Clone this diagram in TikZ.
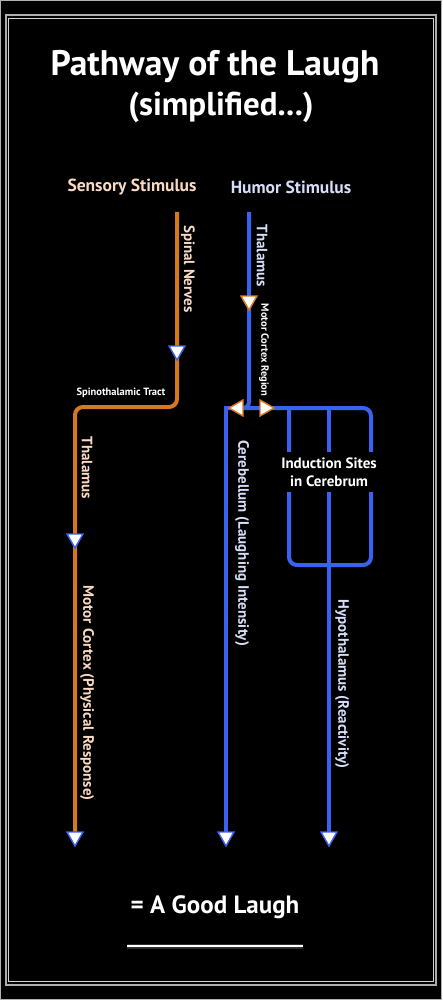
\documentclass[tikz,border=0pt]{standalone}
\usepackage{fontspec}
\setmainfont{PT Sans}

\definecolor{nerve}{RGB}{214,120,30}
\definecolor{humor}{RGB}{58,98,240}
\definecolor{peach}{RGB}{250,218,195}
\definecolor{lilac}{RGB}{215,222,250}

\tikzset{
  sense/.style={draw=nerve, line width=4pt},
  fun/.style={draw=humor, line width=4pt},
  title/.style={font=\bfseries\fontsize{35.5}{40}\selectfont, text=white},
  head/.style={font=\bfseries\fontsize{17.5}{20}\selectfont},
  lbl/.style={font=\bfseries\fontsize{15}{18}\selectfont, rotate=-90, inner sep=0pt},
  small/.style={font=\bfseries\fontsize{10.5}{12}\selectfont, text=white, inner sep=0pt},
  tri/.pic={\filldraw[fill=white, line width=1.4pt, pic actions] (-8,-6) -- (8,-6) -- (0,8) -- cycle;}
}

\begin{document}
\begin{tikzpicture}[x=1pt, y=-1pt]
				% fond et cadre
				\fill[black] (0,0) rectangle (442,1000);
				\draw[gray!60, line width=1pt] (0.5,0.5) rectangle (441.5,999.5);
				\draw[gray!65, line width=2pt] (6,15) rectangle (436,985);
				\draw[gray!35, line width=1pt] (8.5,18.5) rectangle (433.5,981.5);
				\useasboundingbox (0,0) rectangle (442,1000);

				% titre
				\node[title] (ttl) at (215,67) {Pathway of the Laugh};
				\node[title, font=\bfseries\fontsize{33}{36}\selectfont] (sub) at (221,107) {(simplified...)};

				% stimuli
				\node[head, text=peach] (sens) at (132,187) {Sensory Stimulus};
				\node[head, text=lilac] (hum) at (291,187) {Humor Stimulus};

				% voie sensorielle
				\coordinate (s0) at (177,212);
				\coordinate (s1) at (177,407);
				\coordinate (s2) at (75,407);
				\coordinate (s3) at (75,838);
				\draw[sense, rounded corners=8pt] (s0) -- (s1) -- (s2) -- (s3);

				% branche cervelet
				\coordinate (c0) at (226,838);
				\coordinate (c1) at (226,408);
				\coordinate (c2) at (300,408);
				\draw[fun] (c0) -- (c1) -- (c2);

				% voie humour
				\coordinate (h0) at (249,212);
				\coordinate (h1) at (249,408);
				\coordinate (h2) at (236,408);
				\draw[fun, rounded corners=6pt] (h0) -- (h1) -- (h2);

				% sites d'induction
				\coordinate (r1) at (371,408);
				\coordinate (r2) at (371,565);
				\coordinate (r3) at (289,565);
				\coordinate (r4) at (289,408);
				\draw[fun, rounded corners=8pt] (c1) -- (r1) -- (r2) -- (r3) -- (r4);

				% branche hypothalamus
				\coordinate (m0) at (329,408);
				\coordinate (m1) at (329,838);
				\draw[fun] (m0) -- (m1);

				% etiquettes
				\node[lbl, text=peach] (spn) at (188,269) {Spinal Nerves};
				\node[small] (stt) at (121,393) {Spinothalamic Tract};
				\node[lbl, text=peach] (thl) at (87,468) {Thalamus};
				\node[lbl, text=peach] (mcx) at (87,693) {Motor Cortex (Physical Response)};
				\node[lbl, text=lilac] (hth) at (262,256) {Thalamus};
				\node[small, rotate=-90] (mcr) at (264,350) {Motor Cortex Region};
				\node[lbl, text=lilac] (cbl) at (242,543) {Cerebellum (Laughing Intensity)};
				\node[lbl, text=lilac] (hyp) at (342,684) {Hypothalamus (Reactivity)};
				\node[fill=black, text=white, align=center, inner sep=1pt, minimum width=103pt, minimum height=40pt,
				      font=\bfseries\fontsize{15}{18}\selectfont] (ind) at (329,472) {Induction Sites\\in Cerebrum};

				% fleches
				\pic[draw=humor] at (s1 |- 0,352) {tri};
				\pic[draw=humor] at (s2 |- 0,540) {tri};
				\pic[draw=humor] at (s3) {tri};
				\pic[draw=humor] at (c0) {tri};
				\pic[draw=humor] at (m1) {tri};
				\pic[draw=nerve] at (h0 |- 0,302) {tri};
				\pic[draw=nerve, rotate=-90] at (237,408) {tri};
				\pic[draw=nerve, rotate=90] at (266,408) {tri};

				% resultat
				\node[title, font=\bfseries\fontsize{25}{28}\selectfont] (res) at (215,907) {= A Good Laugh};
				\coordinate (u0) at (127,946);
				\coordinate (u1) at (303,946);
				\draw[white!18!black, line width=5pt] (u0) -- (u1);
				\draw[white, line width=2.5pt] (u0) -- (u1);
			\end{tikzpicture}
\end{document}
